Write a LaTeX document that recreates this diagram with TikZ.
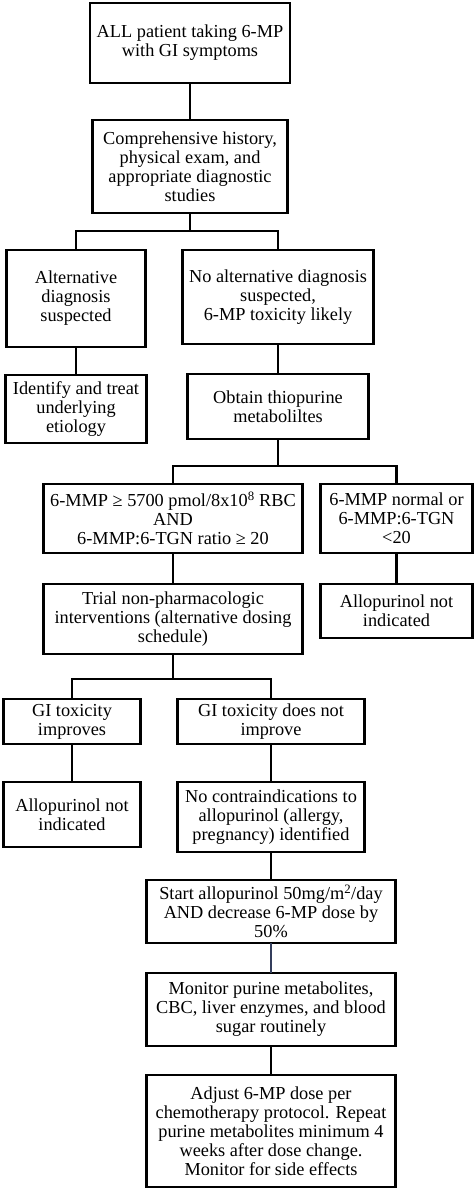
\documentclass[tikz,border=0pt]{standalone}
\usepackage{fontspec}
\setmainfont{Liberation Serif}
\usetikzlibrary{positioning,calc}
\definecolor{slateline}{RGB}{52,62,92}
\tikzset{
  box/.style={draw,rectangle,line width=2.1pt,align=center,inner sep=2pt,outer sep=0pt,
    font=\fontsize{18.3}{19}\selectfont},
  link/.style={line width=2.1pt},
  thinlink/.style={line width=1.4pt,draw=slateline}
}

\begin{document}
\begin{tikzpicture}
  \useasboundingbox (0,0) rectangle (474pt,-1191pt);

  \node[box,minimum width=200pt,minimum height=80pt] (start) at (190pt,-43pt) {ALL patient taking 6-MP\\with GI symptoms};
  \node[box,minimum width=195pt,minimum height=93pt,below=37pt of start] (hist) {Comprehensive history,\\physical exam, and\\appropriate diagnostic\\studies};

  % first split
  \node[box,minimum width=139pt,minimum height=97pt,below=37pt of hist,xshift=-114pt] (alt) {Alternative\\diagnosis\\suspected};
  \node[box,minimum width=191pt,minimum height=94pt,below=37pt of hist,xshift=88pt] (noalt) {No alternative diagnosis\\suspected,\\6-MP toxicity likely};
  \node[box,minimum width=141pt,minimum height=68pt,below=28pt of alt] (ident) {Identify and treat\\underlying\\etiology};
  \node[box,minimum width=181pt,minimum height=65pt,below=30pt of noalt] (obtain) {Obtain thiopurine\\metaboliltes};

  % metabolite levels
  \node[box,minimum width=259pt,minimum height=69pt,below=45pt of obtain,xshift=-105pt] (high) {6-MMP ≥ 5700 pmol/8x10\textsuperscript{8} RBC\\AND\\6-MMP:6-TGN ratio ≥ 20};
  \node[box,minimum width=152pt,minimum height=69pt,below=45pt of obtain,xshift=118.5pt] (normal) {6-MMP normal or\\6-MMP:6-TGN\\<20};
  \node[box,minimum width=259pt,minimum height=70pt,below=31pt of high] (trial) {Trial non-pharmacologic\\interventions (alternative dosing\\schedule)};
  \node[box,minimum width=152pt,minimum height=54pt,below=31pt of normal] (notind) {Allopurinol not\\indicated};

  % response
  \node[box,minimum width=137pt,minimum height=45pt,below=45pt of trial,xshift=-101pt] (better) {GI toxicity\\improves};
  \node[box,minimum width=187pt,minimum height=45pt,below=45pt of trial,xshift=98pt] (worse) {GI toxicity does not\\improve};
  \node[box,minimum width=137pt,minimum height=65pt,below=38pt of better] (notindb) {Allopurinol not\\indicated};
  \node[box,minimum width=187pt,minimum height=70pt,below=38pt of worse] (nocontra) {No contraindications to\\allopurinol (allergy,\\pregnancy) identified};
  \node[box,minimum width=249pt,minimum height=63pt,below=28pt of nocontra] (allo) {Start allopurinol 50mg/m\textsuperscript{2}/day\\AND decrease 6-MP dose by\\50\%};
  \node[box,minimum width=249pt,minimum height=73pt,below=30pt of allo] (monitor) {Monitor purine metabolites,\\CBC, liver enzymes, and blood\\sugar routinely};
  \node[box,minimum width=249pt,minimum height=112pt,below=29pt of monitor] (adjust) {Adjust 6-MP dose per\\chemotherapy protocol. Repeat\\purine metabolites minimum 4\\weeks after dose change.\\Monitor for side effects};

  \coordinate (s1) at ($(hist.south)+(0,-18pt)$);
  \coordinate (s2) at ($(obtain.south)+(0,-27pt)$);
  \coordinate (s3) at ($(trial.south)+(0,-25pt)$);

  \draw[link] (start) -- (hist);
  \draw[link] (hist.south) -- (s1);
  \draw[link] (alt.north) |- (s1) -| (noalt.north);
  \draw[link] (alt) -- (ident);
  \draw[link] (noalt) -- (obtain);
  \draw[link] (obtain.south) -- (s2);
  \draw[link] (high.north) |- (s2) -| (normal.north);
  \draw[link] (high) -- (trial);
  \draw[link] (normal) -- (notind);
  \draw[link] (trial.south) -- (s3);
  \draw[link] (better.north) |- (s3) -| (worse.north);
  \draw[link] (better) -- (notindb);
  \draw[link] (worse) -- (nocontra);
  \draw[link] (nocontra) -- (allo);
  \draw[thinlink] (allo) -- (monitor);
  \draw[link] (monitor) -- (adjust);
\end{tikzpicture}
\end{document}
